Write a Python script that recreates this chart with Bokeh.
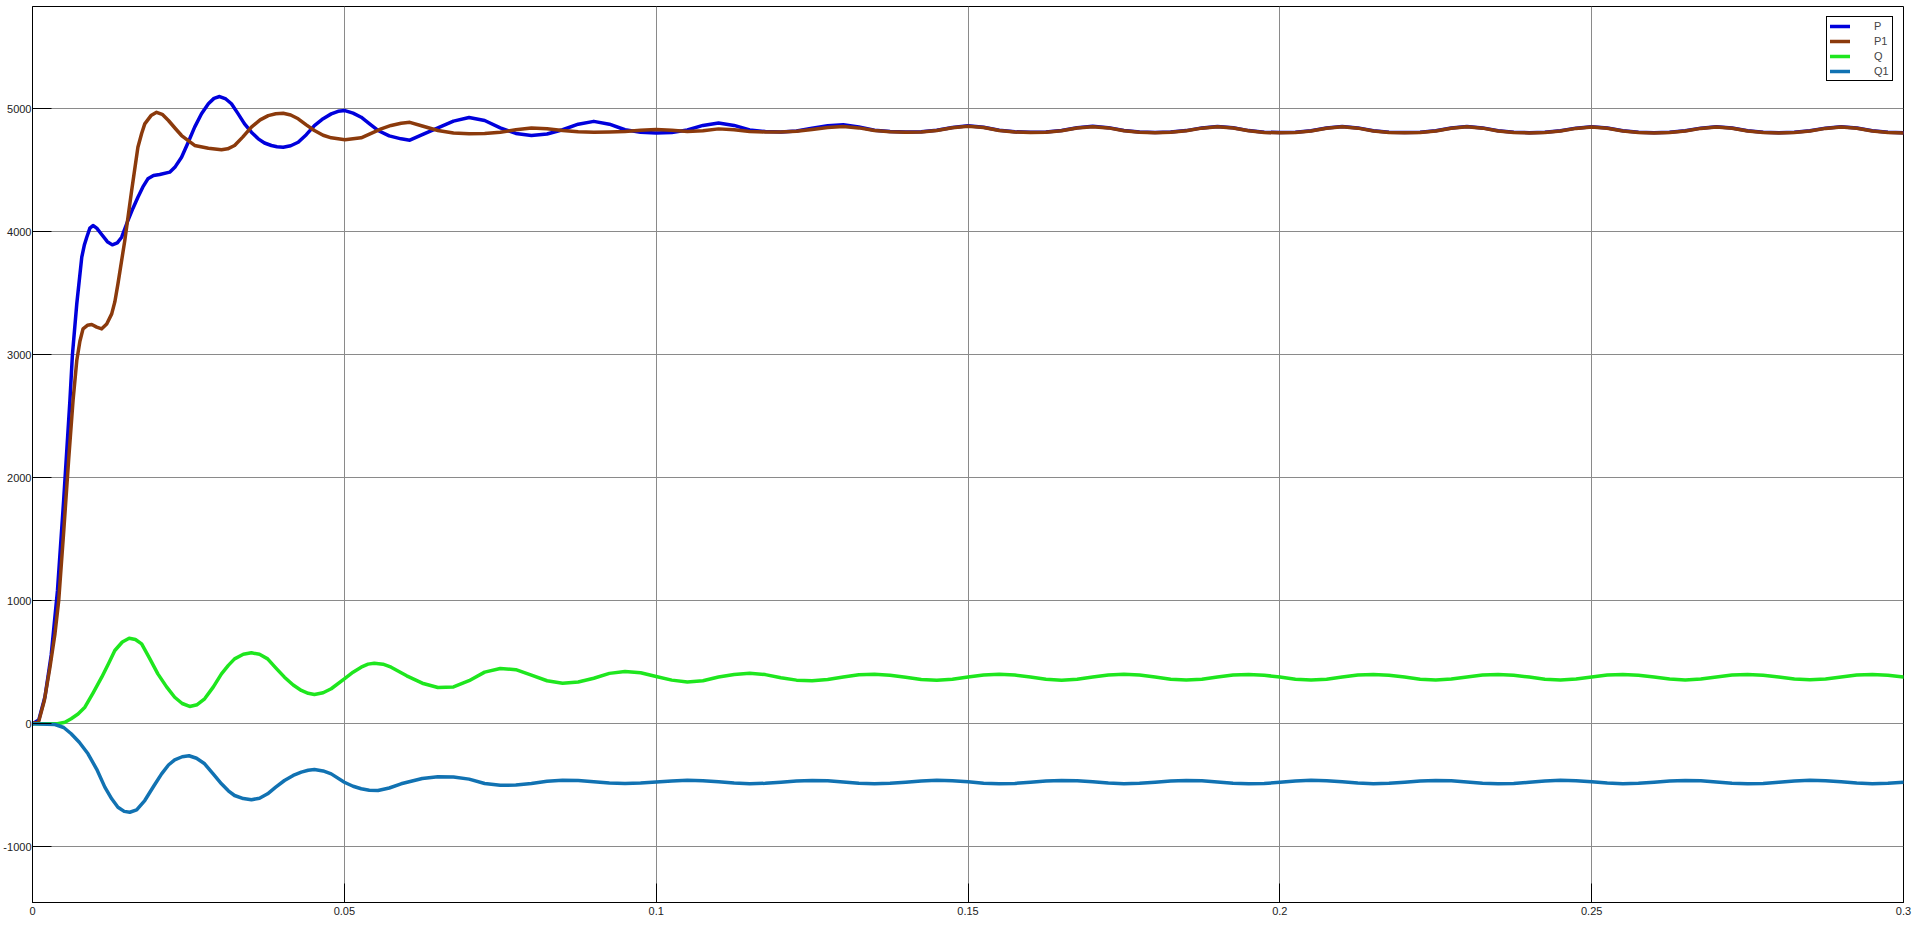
from bokeh.plotting import figure
from bokeh.models import FixedTicker, Range1d
from bokeh.embed import file_html
from bokeh.resources import INLINE

# ---------------- data ----------------
x_ticks = [0, 0.05, 0.1, 0.15, 0.2, 0.25, 0.3]
x_tick_labels = ["0", "0.05", "0.1", "0.15", "0.2", "0.25", "0.3"]
y_ticks = [-1000, 0, 1000, 2000, 3000, 4000, 5000]
y_tick_labels = ["-1000", "0", "1000", "2000", "3000", "4000", "5000"]

series_names = ["P", "P1", "Q", "Q1"]
series_colors = ["#0000dc", "#8b3a0c", "#1ee61e", "#1172b2"]

# shared sample times for the settled part (t >= 0.0625 s, every 2.5 ms)
t_late = [round(0.0625 + 0.0025 * i, 4) for i in range(96)]

t_P_early = [0, 0.001, 0.002, 0.003, 0.004, 0.005, 0.006, 0.0064, 0.0071, 0.0079,
             0.0083, 0.0087, 0.0092, 0.0097, 0.0103, 0.011, 0.012, 0.0128, 0.0136, 0.0143,
             0.0153, 0.0161, 0.0169, 0.0177, 0.0185, 0.0194, 0.0204, 0.022, 0.0229, 0.0239,
             0.0249, 0.026, 0.0271, 0.0282, 0.0291, 0.030, 0.031, 0.0319, 0.0329, 0.034,
             0.0351, 0.0362, 0.0372, 0.0383, 0.0392, 0.0402, 0.0414, 0.0426, 0.0439, 0.0452,
             0.0466, 0.0479, 0.049, 0.0501, 0.0514, 0.0527, 0.054, 0.0554, 0.0572, 0.0591,
             0.0605]
P_early = [0, 30, 220, 560, 1080, 1820, 2630, 3000, 3415, 3794,
           3890, 3956, 4030, 4051, 4030, 3984, 3920, 3894, 3910, 3956,
           4092, 4190, 4281, 4365, 4431, 4458, 4466, 4485, 4530, 4607,
           4720, 4851, 4960, 5041, 5085, 5100, 5080, 5041, 4965, 4878,
           4810, 4756, 4722, 4702, 4692, 4688, 4700, 4728, 4790, 4864,
           4920, 4959, 4980, 4986, 4965, 4932, 4880, 4824, 4780, 4756,
           4745]
P_late = [4790, 4845, 4900, 4930, 4905, 4845, 4800, 4783,
          4795, 4830, 4875, 4898, 4875, 4830, 4810, 4803,
          4808, 4828, 4865, 4885, 4865, 4828, 4815, 4812,
          4820, 4843, 4862, 4870, 4852, 4826, 4815, 4812,
          4814, 4826, 4848, 4862, 4850, 4826, 4813, 4810,
          4812, 4824, 4846, 4858, 4847, 4824, 4811, 4808,
          4811, 4823, 4845, 4857, 4846, 4823, 4810, 4807,
          4810, 4822, 4844, 4856, 4845, 4822, 4810, 4807,
          4810, 4822, 4844, 4856, 4845, 4822, 4809, 4806,
          4809, 4821, 4843, 4855, 4844, 4821, 4809, 4806,
          4809, 4821, 4843, 4855, 4844, 4821, 4809, 4806,
          4809, 4821, 4843, 4855, 4844, 4821, 4809, 4806]

t_P1_early = [0, 0.001, 0.0019, 0.0028, 0.0036, 0.0042, 0.005, 0.0058, 0.0065, 0.0071,
              0.0076, 0.0081, 0.0088, 0.0095, 0.0103, 0.0111, 0.0119, 0.0127, 0.0132, 0.0137,
              0.0148, 0.0159, 0.0169, 0.0175, 0.018, 0.019, 0.0199, 0.0208, 0.0218, 0.0229,
              0.0239, 0.026, 0.0282, 0.0303, 0.0313, 0.0324, 0.0337, 0.0351, 0.0365, 0.0378,
              0.039, 0.0402, 0.0414, 0.0426, 0.0439, 0.0452, 0.0466, 0.0479, 0.0501, 0.0527,
              0.0543, 0.0559, 0.0575, 0.0591, 0.0605]
P1_early = [0, 20, 190, 460, 731, 1000, 1560, 2150, 2628, 2954,
            3110, 3211, 3240, 3246, 3225, 3211, 3250, 3333, 3430, 3577,
            3929, 4336, 4688, 4800, 4878, 4945, 4972, 4955, 4905, 4840,
            4783, 4702, 4680, 4667, 4675, 4702, 4770, 4851, 4910, 4945,
            4960, 4964, 4950, 4919, 4870, 4824, 4785, 4764, 4748, 4764,
            4800, 4837, 4865, 4883, 4890]
P1_late = [4860, 4824, 4803, 4797, 4800, 4810, 4830, 4845,
           4838, 4824, 4813, 4810, 4812, 4815, 4825, 4832,
           4825, 4815, 4822, 4837, 4830, 4815, 4812, 4812,
           4818, 4832, 4848, 4856, 4845, 4824, 4813, 4810,
           4812, 4824, 4846, 4858, 4848, 4824, 4811, 4808,
           4810, 4822, 4844, 4855, 4845, 4822, 4809, 4806,
           4809, 4821, 4843, 4855, 4844, 4821, 4808, 4805,
           4808, 4820, 4842, 4854, 4843, 4820, 4808, 4805,
           4808, 4820, 4842, 4854, 4843, 4820, 4807, 4804,
           4807, 4819, 4841, 4853, 4842, 4819, 4807, 4804,
           4807, 4819, 4841, 4853, 4842, 4819, 4807, 4804,
           4807, 4819, 4841, 4853, 4842, 4819, 4807, 4804]

t_Q_early = [0, 0.004, 0.0052, 0.0062, 0.0073, 0.0084, 0.0097, 0.0111, 0.0122, 0.0132,
             0.0144, 0.0155, 0.0165, 0.0175, 0.0188, 0.0201, 0.0215, 0.0228, 0.024, 0.0252,
             0.0264, 0.0276, 0.029, 0.0303, 0.0314, 0.0324, 0.0338, 0.0351, 0.0364, 0.0377,
             0.039, 0.0404, 0.0418, 0.0431, 0.0442, 0.0452, 0.0466, 0.0479, 0.05, 0.0514,
             0.0527, 0.0538, 0.0548, 0.0562, 0.0575, 0.06]
Q_early = [0, 0, 12, 41, 80, 135, 250, 379, 490, 596,
           665, 696, 685, 650, 530, 406, 300, 216, 165, 141,
           155, 203, 300, 406, 475, 528, 565, 577, 565, 528,
           455, 379, 315, 271, 248, 238, 252, 285, 366, 420,
           460, 485, 493, 485, 460, 390]
Q_late = [330, 295, 300, 350, 420, 450, 440, 395,
          350, 330, 340, 370, 410, 425, 415, 385,
          355, 340, 350, 380, 400, 410, 400, 375,
          355, 350, 360, 380, 398, 402, 395, 378,
          360, 354, 362, 380, 396, 402, 396, 380,
          362, 355, 362, 380, 396, 402, 396, 380,
          362, 356, 363, 380, 396, 401, 395, 380,
          363, 356, 363, 380, 396, 401, 395, 380,
          363, 357, 364, 381, 396, 401, 395, 380,
          363, 357, 364, 381, 396, 401, 395, 380,
          364, 357, 364, 381, 396, 401, 395, 380,
          364, 358, 365, 381, 396, 400, 394, 380]

t_Q1_early = [0, 0.0036, 0.005, 0.0062, 0.0075, 0.0089, 0.0103, 0.0116, 0.0127, 0.0137,
              0.0147, 0.0156, 0.0167, 0.018, 0.0194, 0.0207, 0.0218, 0.0228, 0.024, 0.0251,
              0.0263, 0.0276, 0.029, 0.0303, 0.0314, 0.0324, 0.0338, 0.0351, 0.0364, 0.0377,
              0.039, 0.0404, 0.0418, 0.0431, 0.0442, 0.0452, 0.0466, 0.0479, 0.05, 0.0514,
              0.0527, 0.054, 0.0554, 0.0572, 0.0591]
Q1_early = [0, -6, -30, -81, -150, -244, -370, -515, -610, -678,
            -712, -719, -700, -624, -510, -407, -335, -293, -268, -260,
            -280, -325, -410, -488, -545, -583, -608, -618, -605, -569,
            -515, -461, -420, -393, -378, -372, -383, -407, -475, -508,
            -528, -540, -542, -522, -488]
Q1_late = [-445, -430, -432, -450, -485, -500, -498, -485,
           -468, -460, -462, -472, -482, -486, -482, -474,
           -465, -460, -463, -472, -482, -487, -484, -475,
           -466, -461, -464, -473, -483, -488, -484, -475,
           -466, -460, -463, -472, -483, -488, -485, -476,
           -466, -461, -463, -472, -482, -487, -484, -475,
           -466, -461, -464, -473, -483, -488, -485, -476,
           -465, -460, -463, -472, -482, -487, -484, -475,
           -466, -461, -464, -473, -483, -488, -485, -476,
           -466, -460, -463, -472, -482, -487, -484, -475,
           -466, -461, -464, -473, -483, -488, -485, -476,
           -465, -460, -463, -472, -482, -487, -484, -475]

series_t = [t_P_early + t_late, t_P1_early + t_late, t_Q_early + t_late, t_Q1_early + t_late]
series_v = [P_early + P_late, P1_early + P1_late, Q_early + Q_late, Q1_early + Q1_late]

# ---------------- figure ----------------
FONT = "Liberation Sans"

p = figure(width=1918, height=926, output_backend="svg", toolbar_location=None,
           x_range=Range1d(0, 0.3), y_range=Range1d(-1453, 5832),
           min_border_top=6, min_border_left=0, min_border_right=15, min_border_bottom=24)

p.background_fill_color = "white"
p.border_fill_color = "white"
p.outline_line_color = "black"
p.outline_line_width = 1
p.outline_line_alpha = 1

for t, v, name, col in zip(series_t, series_v, series_names, series_colors):
    p.line(t, v, line_color=col, line_width=3.5, line_join="round", line_cap="round",
           legend_label=name)

p.xaxis.ticker = FixedTicker(ticks=x_ticks)
p.xaxis.major_label_overrides = {k: s for k, s in zip(x_ticks, x_tick_labels)}
p.yaxis.ticker = FixedTicker(ticks=y_ticks)
p.yaxis.major_label_overrides = {k: s for k, s in zip(y_ticks, y_tick_labels)}

for ax in (p.xaxis[0], p.yaxis[0]):
    ax.axis_line_color = "black"
    ax.axis_line_width = 1
    ax.major_tick_in = 19
    ax.major_tick_out = 0
    ax.major_tick_line_color = "black"
    ax.minor_tick_line_color = None
    ax.major_label_text_font = FONT
    ax.major_label_text_font_size = "11px"
    ax.major_label_text_color = "#222222"
p.yaxis.major_label_standoff = 1
p.xaxis.major_label_standoff = 4

p.xgrid.grid_line_color = "#8a8a8a"
p.ygrid.grid_line_color = "#8a8a8a"
p.xgrid.grid_line_width = 1
p.ygrid.grid_line_width = 1

lg = p.legend[0]
lg.location = "top_right"
lg.margin = 10
lg.padding = 3
lg.spacing = 3
lg.glyph_width = 20
lg.glyph_height = 12
lg.label_height = 12
lg.label_width = 15
lg.label_standoff = 24
lg.label_text_font = FONT
lg.label_text_font_size = "11px"
lg.border_line_color = "black"
lg.border_line_width = 1
lg.border_line_alpha = 1
lg.background_fill_color = "white"
lg.background_fill_alpha = 1

open("out.html", "w").write(file_html(p, INLINE))
